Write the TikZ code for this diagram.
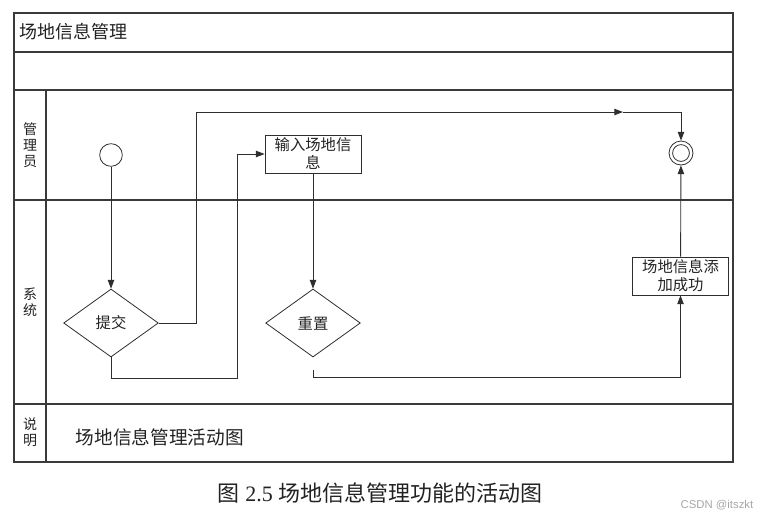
\documentclass[tikz,border=0pt]{standalone}
\usepackage{fontspec}
\setmainfont{Liberation Serif}
\newfontfamily\cjk{Noto Sans CJK SC}
\newfontfamily\wmfont{Liberation Sans}
\usetikzlibrary{arrows.meta, shapes.geometric}
\definecolor{framegray}{HTML}{3A3A3A}
\definecolor{linegray}{HTML}{2E2E2E}
\definecolor{inkgray}{HTML}{222222}
\tikzset{
  flow/.style={-{Triangle[length=6.5pt, width=4.8pt]}, line width=0.65pt, color=linegray},
  frame/.style={line width=0.9pt, color=framegray},
  actbox/.style={draw=linegray, line width=0.6pt, rectangle, minimum width=72pt, minimum height=28.5pt,
    inner sep=1pt, align=center, text=inkgray, font=\cjk\fontsize{11.5}{13.5}\selectfont},
  choice/.style={draw=linegray, line width=0.6pt, diamond, inner sep=0pt, minimum width=71pt,
    minimum height=51pt, text=inkgray, font=\cjk\fontsize{11.5}{13.5}\selectfont},
  startdot/.style={draw=linegray, line width=0.6pt, circle, minimum size=17pt, inner sep=0pt},
  lanetxt/.style={align=center, text=inkgray, font=\cjk\fontsize{10.5}{12}\selectfont},
  every node/.append style={font=\cjk}
}

\begin{document}
\begin{tikzpicture}[x=0.75pt, y=-0.75pt]
\useasboundingbox (0,0) rectangle (768,519);
% frame and lanes
\draw[frame] (14,13) rectangle (733,462);
\draw[frame] (14,52) -- (733,52);
\draw[frame] (14,90) -- (733,90);
\draw[frame] (14,200) -- (733,200);
\draw[frame] (14,404) -- (733,404);
\draw[frame] (46,90) -- (46,462);
\node[anchor=west, text=inkgray, font=\cjk\fontsize{13.5}{15}\selectfont] (title) at (15,32) {场地信息管理};
\node[lanetxt] (laneadmin) at (30,145) {管\\理\\员};
\node[lanetxt] (lanesys) at (30,302) {系\\统};
\node[lanetxt] (lanenote) at (30,432) {说\\明};
\node[anchor=west, text=inkgray, font=\cjk\fontsize{14}{16}\selectfont] (note) at (71,437) {场地信息管理活动图};

% activity nodes
\node[startdot] (start) at (111,155) {};
\node[choice] (submit) at (111,323) {提交};
\node[actbox] (input) at (313,154) {输入场地信\\息};
\node[choice] (reset) at (313,323) {重置};
\node[actbox] (done) at (680.5,276) {场地信息添\\加成功};
\node[startdot, minimum size=18pt] (stop) at (681,153) {};
\draw[linegray, line width=0.6pt] (stop) circle[radius=6.3pt];

% connectors
\coordinate (upturn) at (196,112);
\coordinate (topmark) at (623,112);
\coordinate (lowturn) at (237,378);
\coordinate (resetout) at (313,370);
\coordinate (resetlow) at (313,377);
\draw[flow] (start) -- (submit);
\draw[flow] (submit.east) -| (upturn) -- (topmark);
\draw[flow] (topmark) -| (stop.north);
\draw[flow] (submit.south) |- (lowturn) |- (input.west);
\draw[flow] (input) -- (reset);
\draw[flow] (resetout) -- (resetlow) -| (done.south);
\draw[flow] (done) -- (stop);

% caption
\node[text=inkgray, font=\fontsize{16.5}{19}\selectfont] (caption) at (380,493) {{\cjk 图} 2.5 {\cjk 场地信息管理功能的活动图}};
\node[anchor=east, text=gray!70, font=\wmfont\fontsize{8.5}{10}\selectfont] (mark) at (758,505) {CSDN @itszkt};
\end{tikzpicture}
\end{document}
